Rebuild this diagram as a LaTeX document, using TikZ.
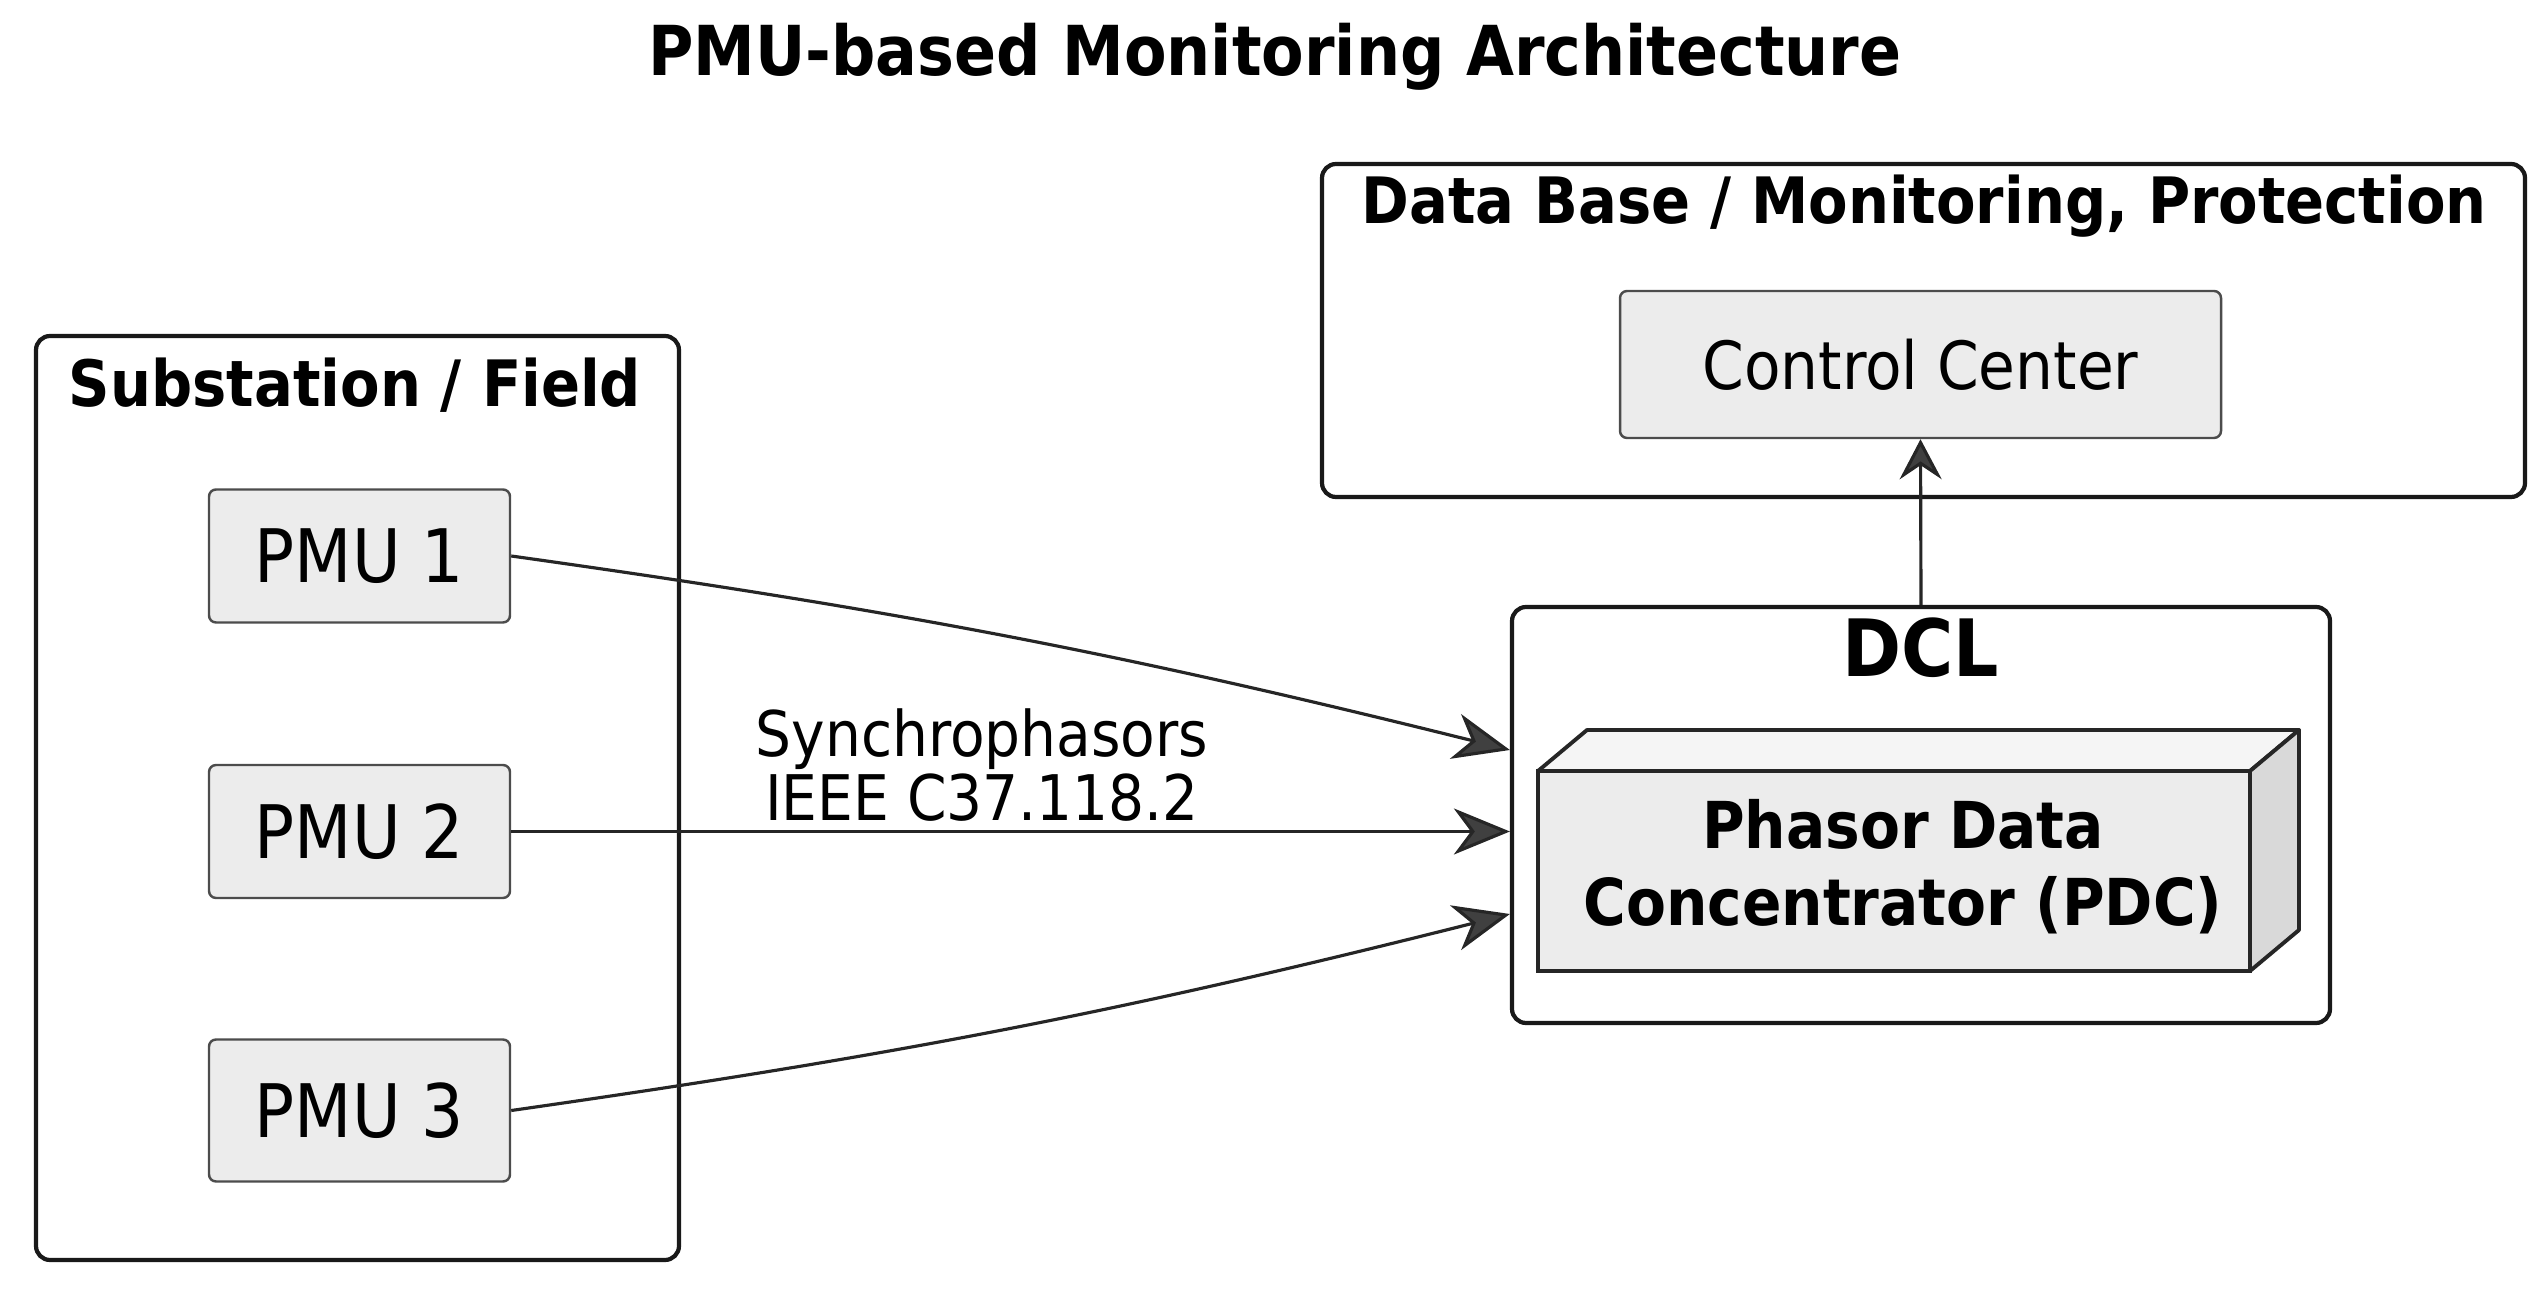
\documentclass[tikz,border=0pt]{standalone}
\usepackage{fontspec}
\setmainfont{DejaVu Sans Condensed}
\usetikzlibrary{positioning,calc,arrows.meta}

\tikzset{
    group/.style={draw=black!90, line width=1.2pt, rounded corners=4pt},
    grouptitle/.style={font=\bfseries\fontsize{18.2}{21}\selectfont, anchor=center},
    unit/.style={draw=black!70, line width=0.7pt, fill=gray!15, rounded corners=2pt,
        minimum width=3.01cm, minimum height=1.33cm, font=\fontsize{21}{24}\selectfont},
    link/.style={draw=black!85, line width=0.9pt,
        -{Stealth[length=5.6mm,width=4.6mm,inset=1.7mm,fill=black!75]}}
}

\begin{document}
\begin{tikzpicture}
    \useasboundingbox (0,0) rectangle (25.46,12.90);

    % Title
    \node (title) at (12.75,12.33) {\bfseries\fontsize{19.6}{23}\selectfont PMU-based Monitoring Architecture};

    % Substation / Field
    \draw[group] (0.36,0.30) rectangle (6.79,9.54);
    \node[grouptitle] (fieldtitle) at (3.55,9.05) {Substation / Field};
    \node[unit] (pmu1) at (3.595,7.34) {PMU 1};
    \node[unit] (pmu2) at (3.595,4.585) {PMU 2};
    \node[unit, minimum height=1.42cm] (pmu3) at (3.595,1.795) {PMU 3};

    % Data Base / Monitoring, Protection
    \draw[group] (13.22,7.93) rectangle (25.25,11.26);
    \node[grouptitle] (dbtitle) at (19.24,10.84) {Data Base / Monitoring, Protection};
    \node[unit, minimum width=6.01cm, minimum height=1.47cm, font=\fontsize{18.9}{22}\selectfont]
        (cc) at (19.205,9.255) {Control Center};

    % DCL with the PDC
    \node[group, minimum width=8.18cm, minimum height=4.16cm] (dcl) at (19.21,4.75) {};
    \node[font=\bfseries\fontsize{22.5}{26}\selectfont] (dcltitle) at (19.21,6.42) {DCL};
    \coordinate (pdcsw) at (15.38,3.19);
    \coordinate (pdcne) at (22.50,5.19);
    \filldraw[fill=gray!8, draw=black!85, line width=1.1pt, line join=round]
        (15.38,5.19) -- ++(0.49,0.41) -- ++(7.12,0) -- (pdcne) -- cycle;
    \filldraw[fill=gray!30, draw=black!85, line width=1.1pt, line join=round]
        (pdcne) -- ++(0.49,0.41) -- ++(0,-2) -- (22.50,3.19) -- cycle;
    \node[draw=black!85, line width=1.1pt, fill=gray!15, minimum width=7.12cm, minimum height=2cm]
        (pdc) at (18.94,4.19) {};
    \node[align=center, font=\bfseries\fontsize{18.4}{22}\selectfont] (pdctext) at (19.03,4.23)
        {Phasor Data\\Concentrator (PDC)};

    % Connectors
    \draw[link] (pmu1.east) to[bend left=3] ([yshift=0.65cm]dcl.west);
    \draw[link] (pmu2.east) -- (pmu2.east -| dcl.west);
    \draw[link] (pmu3.east) to[bend right=3] ([yshift=-0.99cm]dcl.west);
    \draw[link, -{Stealth[length=4mm,width=4.2mm,inset=1.4mm,fill=black!75]}] (dcl.north) -- (cc.south);

    % Stream label
    \node[align=center, font=\fontsize{17.9}{18}\selectfont] (stream) at (9.82,5.25)
        {Synchrophasors\\IEEE C37.118.2};
\end{tikzpicture}
\end{document}
